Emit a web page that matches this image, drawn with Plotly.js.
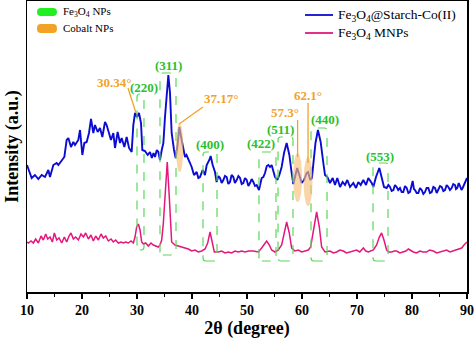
<!DOCTYPE html>
<html>
<head>
<meta charset="utf-8">
<script src="https://cdn.plot.ly/plotly-3.0.1.min.js"></script>
<style>html,body{margin:0;padding:0;background:#fff}#chart{width:474px;height:339px}</style>
</head>
<body>
<div id="chart"></div>
<script>
// ---- Data: Fe3O4@Starch-Co(II) ----
var coTheta = [10.0,10.85,11.45,12.06,12.67,13.27,13.88,14.18,14.79,15.39,15.70,16.30,16.79,17.21,17.52,18.0,18.42,18.73,19.33,19.64,20.06,20.42,20.85,21.27,21.64,22.06,22.36,22.85,23.27,23.70,24.18,24.48,24.79,25.27,25.70,26.0,26.48,26.91,27.21,27.70,28.12,28.55,29.03,29.33,29.64,30.0,30.36,30.73,30.97,31.45,31.94,32.36,32.7,33.0,33.27,33.6,33.88,34.18,34.5,34.79,35.09,35.52,35.70,36.0,36.30,36.73,37.03,37.33,37.70,38.12,38.42,38.73,39.0,39.33,39.64,39.94,40.36,40.85,41.15,41.45,41.94,42.36,42.67,43.15,43.39,43.76,44.18,44.48,44.8,45.09,45.4,45.70,46.0,46.30,46.6,46.91,47.2,47.52,47.8,48.12,48.43,48.73,49.03,49.33,49.64,49.94,50.25,50.55,50.85,51.15,51.45,51.76,52.18,52.67,52.97,53.27,53.6,53.88,54.18,54.48,54.79,55.09,55.52,55.88,56.30,56.73,57.21,57.70,58.12,58.42,58.73,59.12,59.52,59.94,60.36,60.85,61.1,61.5,61.8,62.1,62.45,62.9,63.39,63.88,64.18,64.61,65.09,65.58,66.0,66.42,66.91,67.39,67.82,68.24,68.73,69.33,69.82,70.24,70.67,71.15,71.64,72.06,72.67,72.97,73.45,74.06,74.48,74.91,75.39,75.7,76.0,76.3,76.61,76.9,77.21,77.5,77.82,78.12,78.42,78.73,79.03,79.34,79.64,79.9,80.12,80.35,80.55,80.85,81.15,81.45,81.76,82.06,82.36,82.66,82.97,83.27,83.58,83.88,84.18,84.49,84.79,85.09,85.39,85.7,86.0,86.3,86.61,86.9,87.21,87.5,87.82,88.0,88.24,88.5,88.73,89.0,89.21,89.64,90.0];
var coIntensity = [127,114,117,113,117,115,122,115,127,129,127,132,135,152,154,145,150,147,152,162,137,149,150,159,173,159,167,160,164,155,170,167,160,152,159,144,160,149,154,145,155,144,140,167,179,175,179,169,142,141,137,140,134,139,135,142,140,132,142,149,175,209,217,199,159,142,134,145,165,152,142,135,137,132,129,125,117,120,114,115,122,117,127,132,136,127,120,110,116,114,109,112,116,115,108,110,117,115,109,112,116,114,108,109,114,112,106,109,113,110,106,107,102,114,115,119,126,127,125,127,120,115,112,117,125,139,149,137,119,108,115,124,117,109,112,119,120,112,114,129,149,162,150,129,117,115,109,114,107,114,105,110,107,112,105,109,104,110,107,112,107,114,109,105,115,124,115,105,104,107,105,101,102,107,105,102,104,100,100,106,104,99,100,106,111,103,102,99,99,104,102,98,100,104,104,99,100,105,104,99,102,106,105,101,102,107,105,102,104,108,107,103,104,109,106,102,104,110,114];

// ---- Data: Fe3O4 MNPs ----
var feTheta = [10.0,10.25,10.73,11.15,11.58,12.06,12.55,12.97,13.40,13.76,14.19,14.61,14.97,15.40,15.82,16.31,16.79,17.22,17.64,18.0,18.43,18.85,19.34,19.82,20.25,20.67,21.16,21.64,22.06,22.49,22.97,23.46,23.88,24.31,24.79,25.28,25.70,26.12,26.61,27.09,27.52,27.94,28.43,28.91,29.34,29.64,29.94,30.25,30.55,30.85,31.16,31.58,32.06,32.55,32.97,33.40,33.88,34.19,34.49,34.79,35.1,35.5,35.85,36.1,36.3,36.91,37.52,38.12,38.73,39.34,39.94,40.55,41.15,41.76,42.37,42.85,43.28,43.70,44.06,44.79,45.40,46.0,46.61,47.22,47.82,48.43,49.03,49.64,50.3,51.15,52.06,52.66,53.09,53.57,54.06,54.48,55.09,55.69,56.30,56.72,57.21,57.69,58.12,58.72,59.33,59.93,60.54,61.15,61.57,62.06,62.66,63.15,63.57,64.18,65.09,65.7,66.30,66.9,67.51,68.1,68.72,69.33,69.93,70.5,71.15,71.6,72.06,72.97,73.57,74.06,74.48,74.90,75.39,75.8,76.30,76.8,77.21,77.8,78.42,78.9,79.33,79.8,80.24,80.8,81.45,82.0,82.66,83.2,83.87,84.5,85.09,85.7,86.30,86.9,87.51,88.0,88.42,89.03,89.45,89.82,90.0];
var feIntensity = [50,49,51,49,53,49,56,52,58,53,55,50,59,52,54,49,55,50,56,59,53,55,52,58,55,59,53,57,51,56,52,58,54,56,51,53,50,52,49,50,49,50,49,51,49,55,65,68,62,50,48,49,46,49,47,46,45,47,52,69,97,130,97,62,50,47,46,45,44,43,41,42,40,41,43,49,60,49,40,40,41,39,40,39,41,40,41,40,41,41,40,44,47,51,47,42,40,42,47,59,70,59,44,41,42,40,41,42,45,62,80,65,45,40,41,39,40,42,41,39,40,41,42,40,44,41,40,42,47,55,59,52,42,40,40,41,41,39,40,41,43,41,40,39,41,40,40,42,41,39,40,41,42,40,41,42,43,44,47,49,50];

// ---- Series names, reflection (hkl) labels, cobalt peak labels ----
var seriesNames = ['Fe<sub>3</sub>O<sub>4</sub>@Starch-Co(II)','Fe<sub>3</sub>O<sub>4</sub> MNPs'];
var hklLabels = ['(220)','(311)','(400)','(422)','(511)','(440)','(553)'];
var coPeakLabels = ['30.34°','37.17°','57.3°','62.1°'];
var keyLabels = ['Fe<sub>3</sub>O<sub>4</sub> NPs','Cobalt NPs'];

// ---- Annotation geometry (layout only) ----
var boxGeom = [ // x0, x1, top, bottom, labelX, labelY
  [30.0,31.27,198,42, 31.3,205],
  [34.18,37.09,219,37, 35.64,227],
  [42.0,44.55,140,31, 43.36,148],
  [52.18,55.27,140,31, 52.55,149],
  [55.64,58.36,155,31, 56.18,163],
  [61.64,64.55,164,31, 64.1,173],
  [72.91,75.64,129,31, 74.1,136]
];
var coLabelGeom = [ // labelX, labelY, lineX0, lineY0, lineX1, lineY1
  [25.73,210, 28.36,204, 29.82,179],
  [45.27,194, 42.0,185, 37.64,168],
  [56.9,180, 59.2,172, 59.2,135],
  [61.0,197, 61.1,189, 61.1,129]
];
var ellipses = [[37.1,38.4,120,169],[58.4,60.0,90,139],[60.3,61.9,86,135]];

var FONT = 'Liberation Serif, Times New Roman, serif';
var GREEN_T = '#2bbf2b', GREEN_B = '#5ad85a', ORANGE = '#f2a227';
var BLUE = '#0b0bd4', PINK = '#e5177c';

function rrect(x0,x1,y0,y1,rx,ry){
  return 'M'+(x0+rx)+','+y0+' L'+(x1-rx)+','+y0+' Q'+x1+','+y0+' '+x1+','+(y0+ry)+
    ' L'+x1+','+(y1-ry)+' Q'+x1+','+y1+' '+(x1-rx)+','+y1+' L'+(x0+rx)+','+y1+
    ' Q'+x0+','+y1+' '+x0+','+(y1-ry)+' L'+x0+','+(y0+ry)+' Q'+x0+','+y0+' '+(x0+rx)+','+y0+' Z';
}

var shapes = [], annotations = [];
boxGeom.forEach(function(b,i){
  shapes.push({type:'path', xref:'x', yref:'y', path:rrect(b[0],b[1],b[3],b[2],0.5,3),
    line:{color:GREEN_B, width:1.2, dash:'dash'}, layer:'above'});
  annotations.push({x:b[4], y:b[5], xref:'x', yref:'y', text:'<b>'+hklLabels[i]+'</b>', showarrow:false,
    font:{family:FONT, size:13, color:GREEN_T}, xanchor:'center', yanchor:'middle'});
});
ellipses.forEach(function(e){
  shapes.push({type:'circle', xref:'x', yref:'y', x0:e[0], x1:e[1], y0:e[2], y1:e[3],
    fillcolor:'rgba(246,190,120,0.65)', line:{width:0}, layer:'above'});
});
coLabelGeom.forEach(function(c,i){
  shapes.push({type:'line', xref:'x', yref:'y', x0:c[2], y0:c[3], x1:c[4], y1:c[5],
    line:{color:ORANGE, width:1.3}});
  annotations.push({x:c[0], y:c[1], xref:'x', yref:'y', text:'<b>'+coPeakLabels[i]+'</b>', showarrow:false,
    font:{family:FONT, size:13, color:ORANGE}, xanchor:'center', yanchor:'middle'});
});
// top-left key
shapes.push({type:'path', xref:'x', yref:'y', path:rrect(11.82,15.45,276,284,0.7,4), fillcolor:'#22ee22', line:{width:0}});
shapes.push({type:'path', xref:'x', yref:'y', path:rrect(11.82,15.45,259,268,0.7,4), fillcolor:ORANGE, line:{width:0}});
[[280,0],[264,1]].forEach(function(k){
  annotations.push({x:16.1, y:k[0], xref:'x', yref:'y', text:keyLabels[k[1]], showarrow:false,
    font:{family:FONT, size:11, color:'#000'}, xanchor:'left', yanchor:'middle'});
});
// top-right series key
[[277,BLUE,0],[259,PINK,1]].forEach(function(k){
  shapes.push({type:'line', xref:'x', yref:'y', x0:60.55, x1:65.64, y0:k[0], y1:k[0], line:{color:k[1], width:1.8}});
  annotations.push({x:66.2, y:k[0], xref:'x', yref:'y', text:seriesNames[k[2]], showarrow:false,
    font:{family:FONT, size:13.5, color:'#000'}, xanchor:'left', yanchor:'middle'});
});

var traces = [
  {x:coTheta, y:coIntensity, type:'scatter', mode:'lines', name:seriesNames[0], line:{color:BLUE, width:1.9}},
  {x:feTheta, y:feIntensity, type:'scatter', mode:'lines', name:seriesNames[1], line:{color:PINK, width:1.5}}
];

var layout = {
  width:474, height:339,
  margin:{l:27, r:7, t:1, b:47},
  paper_bgcolor:'#fff', plot_bgcolor:'#fff',
  font:{family:FONT, color:'#000'},
  showlegend:false,
  xaxis:{range:[10,90], tickvals:[10,20,30,40,50,60,70,80,90], ticktext:['10','20','30','40','50','60','70','80','90'],
    ticks:'outside', ticklen:5, tickwidth:1.5, tickcolor:'#000',
    minor:{dtick:5, ticks:'outside', ticklen:3, tickwidth:1.2, tickcolor:'#000', showgrid:false},
    showline:true, linecolor:'#000', linewidth:1.5, mirror:true, showgrid:false, zeroline:false,
    tickfont:{family:FONT, size:14, color:'#000', weight:'bold'},
    title:{text:'<b>2θ (degree)</b>', font:{family:FONT, size:18, color:'#000'}, standoff:4}},
  yaxis:{range:[0,291], showticklabels:false, ticks:'', showline:true, linecolor:'#000', linewidth:1.5,
    mirror:true, showgrid:false, zeroline:false,
    title:{text:'<b>Intensity (a.u.)</b>', font:{family:FONT, size:18, color:'#000'}, standoff:2}},
  shapes:shapes, annotations:annotations
};

Plotly.newPlot('chart', traces, layout, {staticPlot:true, displayModeBar:false});
</script>
</body>
</html>
